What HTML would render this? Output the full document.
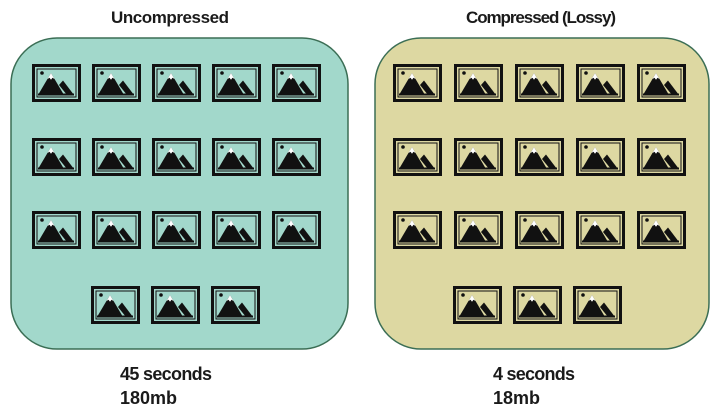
<!DOCTYPE html>
<html><head><style>
body{margin:0;background:#fff;}
svg{display:block;}
text{font-family:"Liberation Sans",sans-serif;font-weight:bold;fill:#1a1a1a;}
</style></head><body>
<svg width="728" height="415" viewBox="0 0 728 415" xmlns="http://www.w3.org/2000/svg">
<defs>
<g id="ic">
<rect x="1.5" y="1.5" width="46" height="35" fill="none" stroke="#111" stroke-width="3"/>
<rect x="5" y="5" width="39" height="28" fill="none" stroke="#111" stroke-width="1"/>
<circle cx="10" cy="9" r="1.8" fill="#111"/>
<path d="M6 31 L19 9 L32 31 Z" fill="#111"/>
<path d="M15.5 15 L19 9 L22.5 15 L20.5 13.8 L19 15.8 L17.5 13.8 Z" fill="#fff"/>
<path d="M27 21 L31 16.5 L42 31 L35 31 Z" fill="#111"/>
<rect x="6" y="29.5" width="36" height="2" fill="#111"/>
</g>
</defs>
<text x="170" y="23" font-size="17" text-anchor="middle" textLength="118">Uncompressed</text>
<text x="541" y="23" font-size="17" text-anchor="middle" textLength="150">Compressed (Lossy)</text>
<rect x="11" y="38" width="337" height="311" rx="46" fill="#a2d8cb" stroke="#3b6e55" stroke-width="1.5"/>
<rect x="375" y="38" width="334" height="311" rx="46" fill="#ddd8a2" stroke="#3b6e55" stroke-width="1.5"/>
<g>
<use href="#ic" x="32" y="64"/><use href="#ic" x="92" y="64"/><use href="#ic" x="152" y="64"/><use href="#ic" x="212" y="64"/><use href="#ic" x="272" y="64"/>
<use href="#ic" x="32" y="138"/><use href="#ic" x="92" y="138"/><use href="#ic" x="152" y="138"/><use href="#ic" x="212" y="138"/><use href="#ic" x="272" y="138"/>
<use href="#ic" x="32" y="211"/><use href="#ic" x="92" y="211"/><use href="#ic" x="152" y="211"/><use href="#ic" x="212" y="211"/><use href="#ic" x="272" y="211"/>
<use href="#ic" x="91" y="286"/><use href="#ic" x="151" y="286"/><use href="#ic" x="211" y="286"/>
</g>
<g>
<use href="#ic" x="393" y="64"/><use href="#ic" x="454" y="64"/><use href="#ic" x="515" y="64"/><use href="#ic" x="576" y="64"/><use href="#ic" x="637" y="64"/>
<use href="#ic" x="393" y="138"/><use href="#ic" x="454" y="138"/><use href="#ic" x="515" y="138"/><use href="#ic" x="576" y="138"/><use href="#ic" x="637" y="138"/>
<use href="#ic" x="393" y="211"/><use href="#ic" x="454" y="211"/><use href="#ic" x="515" y="211"/><use href="#ic" x="576" y="211"/><use href="#ic" x="637" y="211"/>
<use href="#ic" x="453" y="286"/><use href="#ic" x="513" y="286"/><use href="#ic" x="573" y="286"/>
</g>
<text x="120" y="380" font-size="18" textLength="92">45 seconds</text>
<text x="120" y="404" font-size="18" textLength="57">180mb</text>
<text x="493" y="380" font-size="18" textLength="82">4 seconds</text>
<text x="493" y="404" font-size="18" textLength="47">18mb</text>
</svg>
</body></html>
